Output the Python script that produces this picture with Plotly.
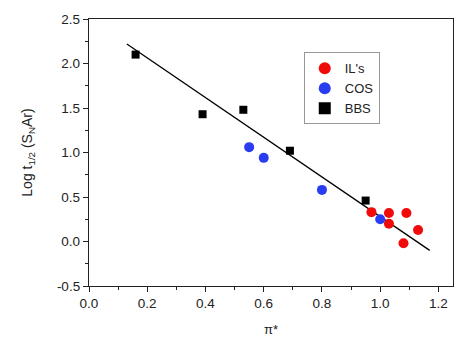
import plotly.graph_objects as go

# Solvatochromic polarity (pi*) vs. log half-life for the SNAr reaction
il_x = [0.97, 1.03, 1.09, 1.03, 1.13, 1.08]
il_y = [0.33, 0.32, 0.32, 0.20, 0.13, -0.02]

cos_x = [0.55, 0.60, 0.80, 1.00]
cos_y = [1.06, 0.94, 0.58, 0.25]

bbs_x = [0.16, 0.39, 0.53, 0.69, 0.95]
bbs_y = [2.10, 1.43, 1.48, 1.02, 0.46]

fit_x = [0.13, 1.17]
fit_y = [2.22, -0.10]

x_ticks = [0.0, 0.2, 0.4, 0.6, 0.8, 1.0, 1.2]
y_ticks = [-0.5, 0.0, 0.5, 1.0, 1.5, 2.0, 2.5]

FONT = "Liberation Sans, Arial"

fig = go.Figure()
fig.add_trace(go.Scatter(x=fit_x, y=fit_y, mode="lines",
                         line=dict(color="black", width=1.3), showlegend=False))
fig.add_trace(go.Scatter(x=il_x, y=il_y, mode="markers", name="IL's",
                         marker=dict(symbol="circle", size=10, color="#f00a0a")))
fig.add_trace(go.Scatter(x=cos_x, y=cos_y, mode="markers", name="COS",
                         marker=dict(symbol="circle", size=10, color="#2a3cf0")))
fig.add_trace(go.Scatter(x=bbs_x, y=bbs_y, mode="markers", name="BBS",
                         marker=dict(symbol="square", size=8, color="black")))

axis_common = dict(
    showgrid=False, zeroline=False, showline=True, linecolor="#222", linewidth=1.3,
    mirror=True, ticks="outside", ticklen=5, tickwidth=1, tickcolor="#222",
    tickfont=dict(family=FONT, size=13.5, color="#222"),
)

fig.update_xaxes(range=[0, 1.25], tickvals=x_ticks, ticktext=[f"{v:.1f}" for v in x_ticks],
                 minor=dict(dtick=0.1, ticks="outside", ticklen=3, tickcolor="#222"),
                 title=dict(text="π*", font=dict(family=FONT, size=13, color="#222"),
                            standoff=14),
                 **axis_common)
fig.update_yaxes(range=[-0.5, 2.5], tickvals=y_ticks, ticktext=[f"{v:.1f}" for v in y_ticks],
                 minor=dict(dtick=0.25, ticks="outside", ticklen=3, tickcolor="#222"),
                 title=dict(text="Log t<sub>1/2</sub> (S<sub>N</sub>Ar)",
                            font=dict(family=FONT, size=14, color="#222"),
                            standoff=20),
                 **axis_common)

fig.update_layout(
    width=474, height=346,
    margin=dict(l=89, r=21, t=17, b=59),
    paper_bgcolor="white", plot_bgcolor="white",
    legend=dict(x=0.59, y=0.875, xanchor="left", yanchor="top",
                bordercolor="#999", borderwidth=1, bgcolor="white",
                font=dict(family=FONT, size=13, color="#222"),
                itemsizing="constant", tracegroupgap=0),
)

fig.write_html("out.html")
